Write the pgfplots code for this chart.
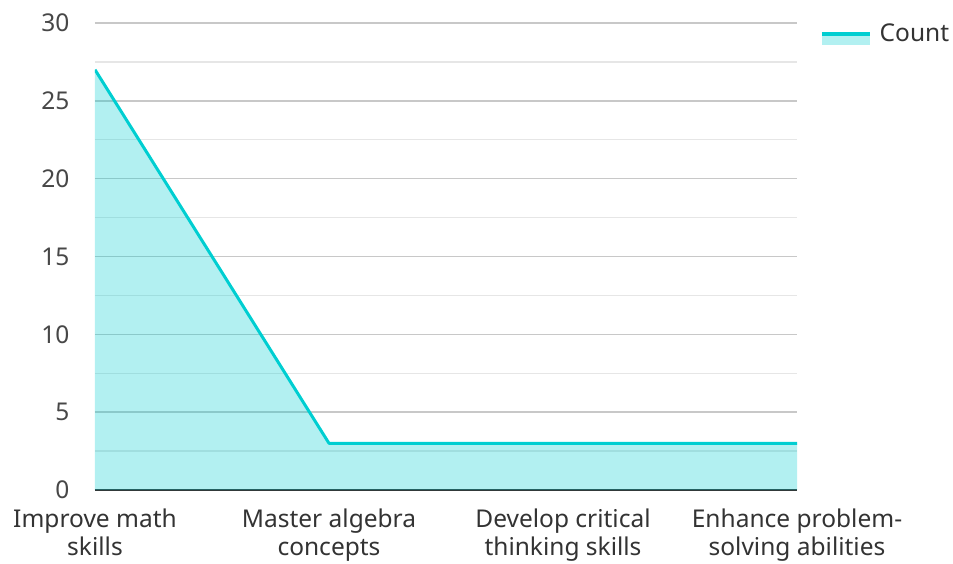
\documentclass[border=0pt]{standalone}
\usepackage{fontspec}
\setmainfont{Noto Sans}
\usepackage{pgfplots}
\pgfplotsset{compat=1.18}
\definecolor{turq}{HTML}{00CED1}
\definecolor{gridmaj}{HTML}{C8C8C8}
\definecolor{gridmin}{HTML}{E6E6E6}
\definecolor{txt}{HTML}{333333}
\begin{document}
\begin{tikzpicture}
% page frame: axis is 702x467bp, with room for labels and legend around it
\useasboundingbox (-95bp,-74bp) rectangle (858bp,490bp);
\begin{axis}[
  at={(0,0)}, anchor=south west,
  scale only axis,
  width=702bp, height=467bp,
  xmin=0, xmax=3, ymin=0, ymax=30,
  axis lines*=left,
  y axis line style={draw=none},
  x axis line style={-, line width=2.2bp, color=txt},
  xtick={0,1,2,3},
  xticklabels={Improve math\\skills, Master algebra\\concepts, Develop critical\\thinking skills, Enhance problem-\\solving abilities},
  x tick label style={align=center, font=\fontsize{24.5bp}{28bp}\selectfont, text=txt, yshift=-15bp},
  ytick={0,5,...,30},
  minor ytick={2.5,7.5,...,27.5},
  y tick label style={font=\fontsize{24.5bp}{28bp}\selectfont, text=txt!90, xshift=-22bp},
  /pgf/number format/assume math mode=true,
  major tick length=0pt, minor tick length=0pt,
  ymajorgrids, yminorgrids,
  major grid style={gridmaj, line width=1.4bp},
  minor grid style={gridmin, line width=1.4bp},
  legend style={draw=none, fill=none, at={(1,1)}, anchor=north west,
    xshift=20bp, yshift=3bp, font=\fontsize{24.5bp}{28bp}\selectfont, text=txt,
    nodes={inner xsep=8bp}},
  legend cell align=left,
  legend image code/.code={
    \path[fill=turq, fill opacity=0.3, draw=none] (0bp,-11bp) rectangle (48bp,0bp);
    \path[draw=turq, line width=3.5bp, fill=none] (0bp,0bp) -- (48bp,0bp);
  },
]
\addplot[draw=none, fill=turq, fill opacity=0.3, forget plot]
  coordinates {(0,27) (1,3) (2,3) (3,3)} \closedcycle;
\addplot[turq, line width=3bp, line join=round]
  coordinates {(0,27) (1,3) (2,3) (3,3)};
\legend{Count}
\end{axis}
\end{tikzpicture}
\end{document}
